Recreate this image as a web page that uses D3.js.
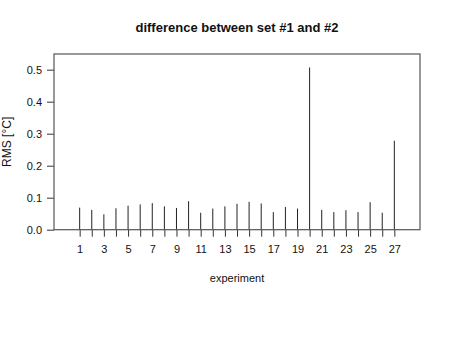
<!DOCTYPE html>
<html><head><meta charset="utf-8">
<script src="https://cdn.jsdelivr.net/npm/d3@7"></script>
<style>body{margin:0;background:#fff}svg{display:block}text{font-family:"Liberation Sans",Arial,sans-serif}</style>
</head><body>
<script>
const experiments = d3.range(1, 28);
const rms = [0.069,0.062,0.048,0.067,0.075,0.079,0.083,0.073,0.068,0.089,0.053,0.066,0.073,0.081,0.087,0.082,0.055,0.071,0.066,0.507,0.062,0.055,0.061,0.055,0.086,0.053,0.278];
const yTicks = [0, 0.1, 0.2, 0.3, 0.4, 0.5];
const xLabels = experiments.filter(d => d % 2 === 1);
const title = "difference between set #1 and #2";
const xTitle = "experiment";
const yTitle = "RMS [°C]";

const W = 474, H = 338;
const L = 54, R = 420, T = 54, B = 229.7;
const svg = d3.select("body").append("svg").attr("width", W).attr("height", H);
const x = d3.scaleLinear().domain([-1.12, 29.12]).range([L, R]);
const y = d3.scaleLinear().domain([0, 0.549]).range([B, T]);

svg.append("g").attr("transform", `translate(0,${B})`)
  .call(d3.axisBottom(x).tickValues(experiments).tickSize(7).tickSizeOuter(0)
    .tickFormat(d => xLabels.includes(d) ? d : ""))
  .call(g => g.select(".domain").remove())
  .call(g => g.selectAll("line").attr("stroke", "#333"))
  .call(g => g.selectAll("text").attr("font-size", 11).attr("fill", "#111").attr("dy", "0.71em").attr("y", 16));

svg.append("g").attr("transform", `translate(${L},0)`)
  .call(d3.axisLeft(y).tickValues(yTicks).tickSize(7).tickFormat(d3.format(".1f")))
  .call(g => g.select(".domain").remove())
  .call(g => g.selectAll("line").attr("stroke", "#333"))
  .call(g => g.selectAll("text").attr("font-size", 11).attr("fill", "#111").attr("x", -12));

svg.append("g").selectAll("line").data(rms).join("line")
  .attr("x1", (d, i) => x(experiments[i])).attr("x2", (d, i) => x(experiments[i]))
  .attr("y1", y(0)).attr("y2", d => y(d))
  .attr("stroke", "#222").attr("stroke-width", 1);

svg.append("rect").attr("x", L).attr("y", T).attr("width", R - L).attr("height", B - T)
  .attr("fill", "none").attr("stroke", "#555").attr("stroke-width", 1.2);

svg.append("text").attr("x", (L + R) / 2).attr("y", 32).attr("text-anchor", "middle")
  .attr("font-size", 13).attr("font-weight", "bold").attr("fill", "#111").text(title);
svg.append("text").attr("x", (L + R) / 2).attr("y", 282).attr("text-anchor", "middle")
  .attr("font-size", 11).attr("fill", "#111").text(xTitle);
svg.append("text").attr("transform", `translate(11,${(T + B) / 2}) rotate(-90)`).attr("text-anchor", "middle")
  .attr("font-size", 12).attr("fill", "#111").text(yTitle);
</script>
</body></html>
